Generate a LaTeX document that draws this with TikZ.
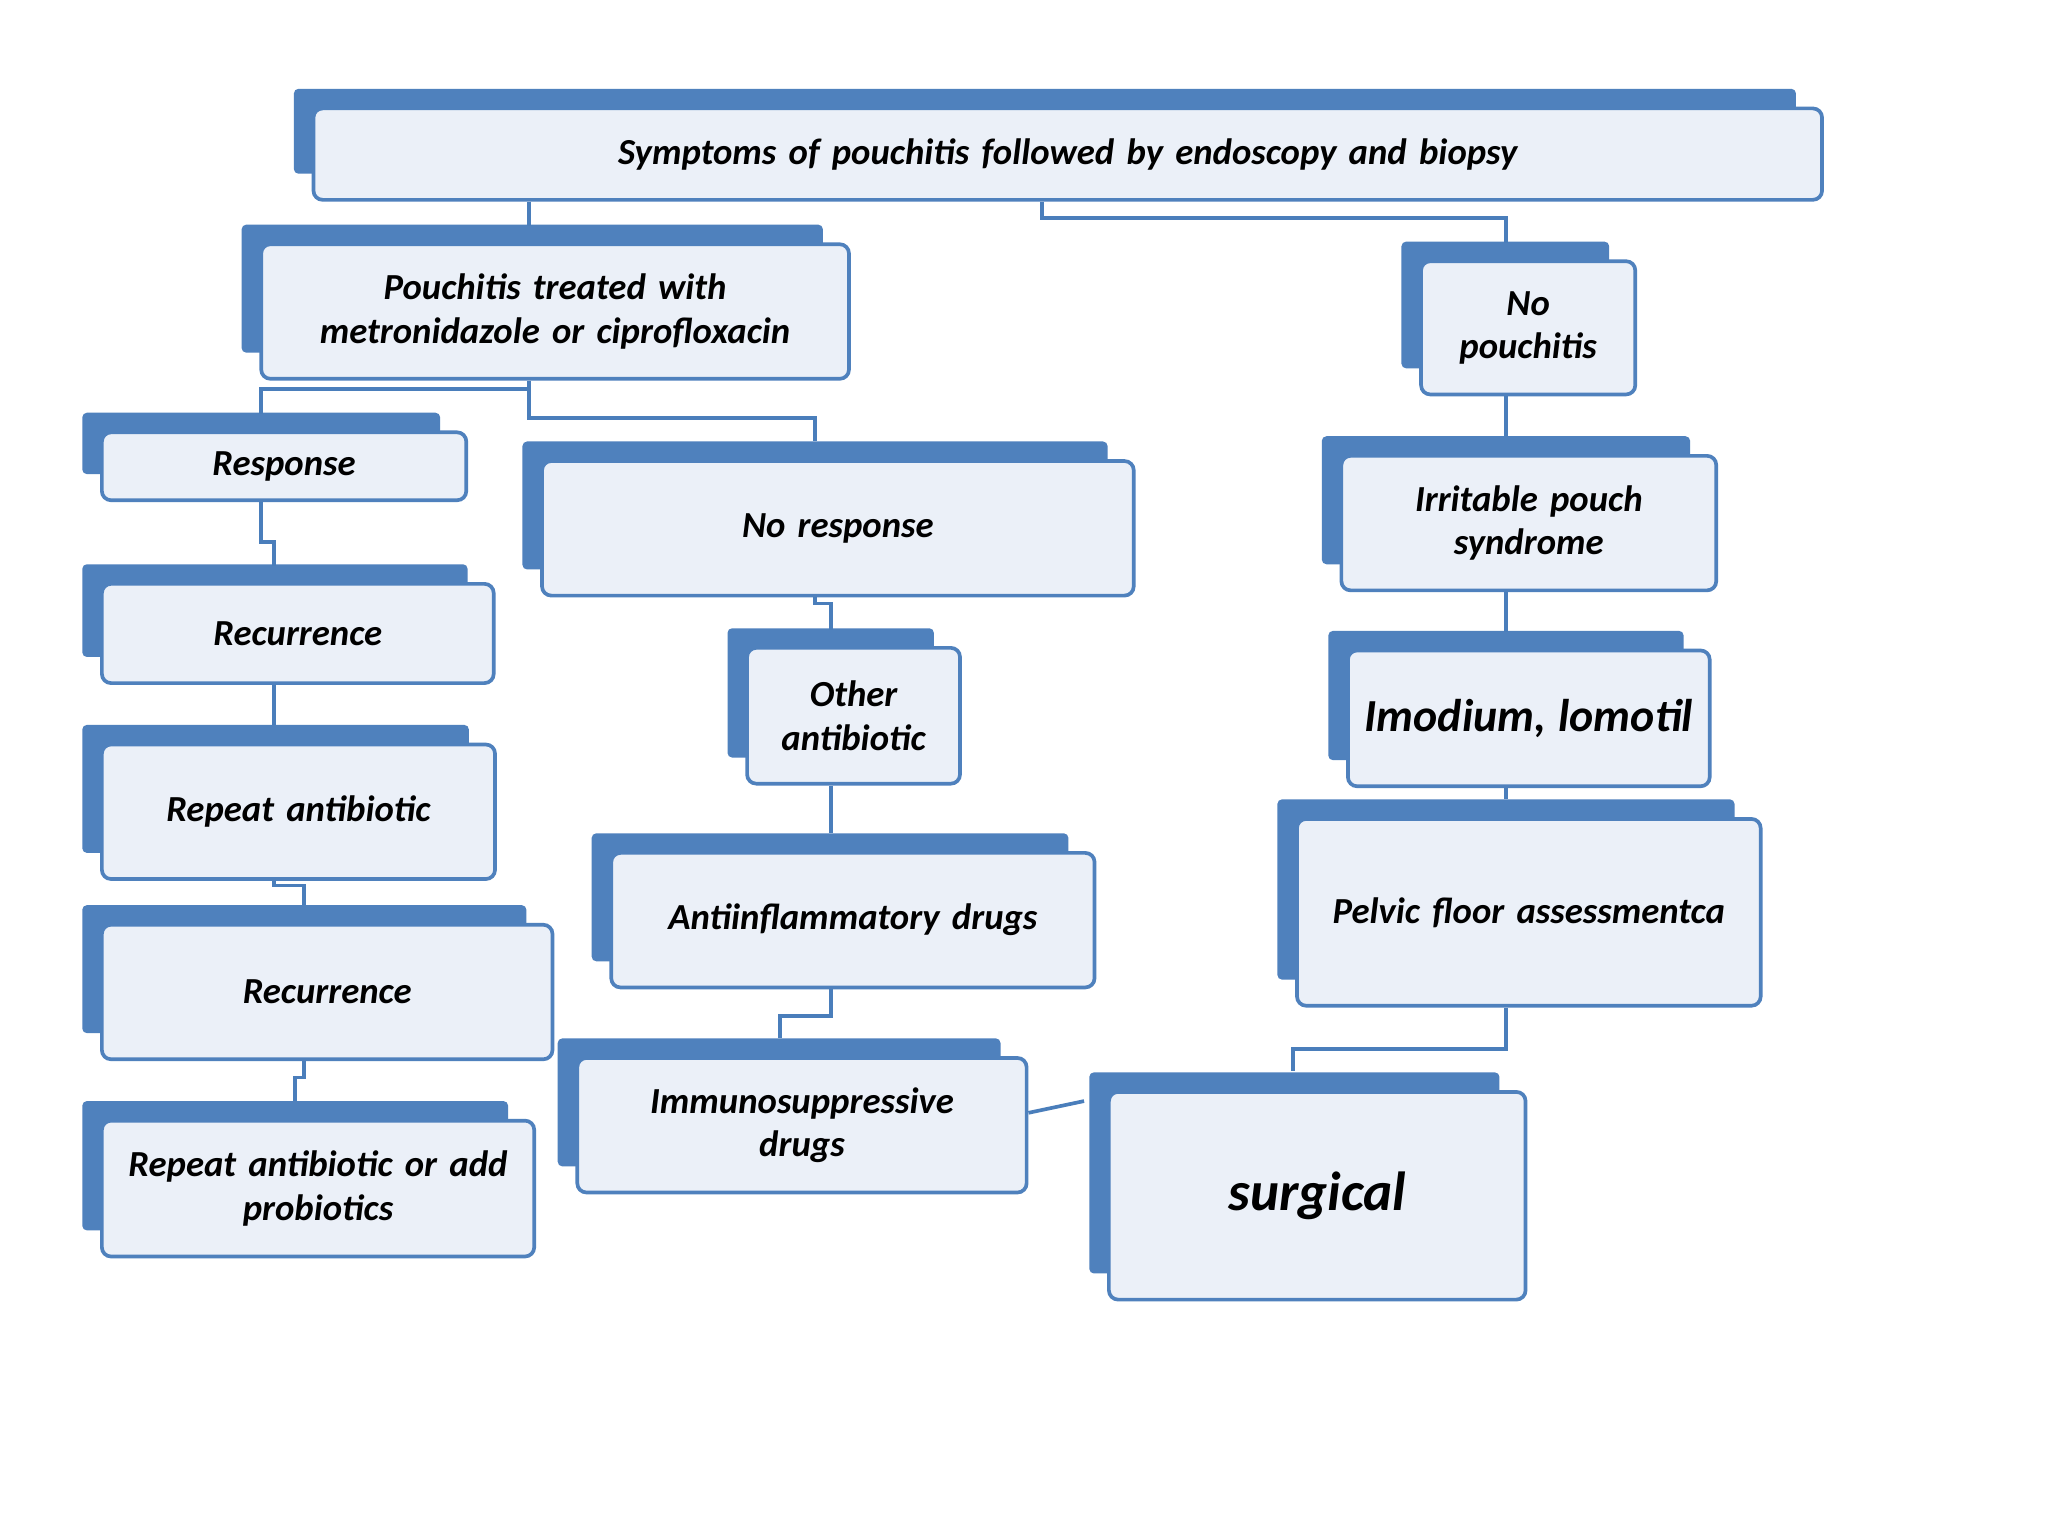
\documentclass[tikz,border=0pt]{standalone}
\usepackage{fontspec}
\setmainfont{Carlito}
\usetikzlibrary{calc}
\definecolor{backblue}{HTML}{4F81BD}
\definecolor{lineblue}{HTML}{4A7EBB}
\definecolor{frontfill}{HTML}{EBF0F8}
\newcommand{\flowBox}[6]{%
  \fill[backblue, rounded corners=2pt] (#2-15,#3-15) rectangle (#4-20,#5-20);
  \pgfmathsetmacro{\bw}{(#4-#2)*0.02}\pgfmathsetmacro{\bh}{(#5-#3)*0.02}
  \node[frontbox, minimum width=\bw cm, minimum height=\bh cm, text width=\bw cm-0.4cm] (#1) at ({(#2+#4)/2},{(#3+#5)/2}) {#6};
}
\begin{document}
\begin{tikzpicture}[x=0.02cm, y=-0.02cm,
  frontbox/.style={draw=backblue, line width=1.6pt, fill=frontfill, rounded corners=4pt,
    align=center, inner sep=0pt, font=\fontsize{16}{19}\selectfont\bfseries\itshape},
  conn/.style={draw=lineblue, line width=1.6pt}]
  \useasboundingbox[fill=white] (0,0) rectangle (1568,1176);
  \flowBox{top}{240}{83}{1395}{153}{Symptoms of pouchitis followed by endoscopy and biopsy}
  \flowBox{treat}{200}{187}{650}{290}{Pouchitis treated with\\metronidazole or ciprofloxacin}
  \flowBox{nopch}{1088}{200}{1252}{302}{No\\pouchitis}
  \flowBox{resp}{78}{331}{357}{383}{Response}
  \flowBox{noresp}{415}{353}{868}{456}{No response}
  \flowBox{irr}{1027}{349}{1314}{452}{Irritable pouch\\syndrome}
  \flowBox{recA}{78}{447}{378}{523}{Recurrence}
  \flowBox{other}{572}{496}{735}{600}{Other\\antibiotic}
  \flowBox{imod}{1032}{498}{1309}{602}{\fontsize{20}{24}\selectfont Imodium, lomotil}
  \flowBox{repA}{78}{570}{379}{673}{Repeat antibiotic}
  \flowBox{anti}{468}{653}{838}{756}{Antiinflammatory drugs}
  \flowBox{pelvic}{993}{627}{1348}{770}{Pelvic floor assessmentca}
  \flowBox{recB}{78}{708}{423}{811}{Recurrence}
  \flowBox{immuno}{442}{810}{786}{913}{Immunosuppressive\\drugs}
  \flowBox{repB}{78}{858}{409}{962}{Repeat antibiotic or add\\probiotics}
  \flowBox{surg}{849}{836}{1168}{995}{\fontsize{24}{28}\selectfont surgical}
  % connectors
  \draw[conn] (405,0 |- top.south) -- (405,173);
  \draw[conn] (798,0 |- top.south) |- (1153,167) -- (1153,186);
  \draw[conn] (405,0 |- treat.south) |- (200,298) -- (200,317);
  \draw[conn] (405,0 |- treat.south) |- (624,320) -- (624,338);
  \draw[conn] (200,0 |- resp.south) |- (210,415) -- (210,433);
  \draw[conn] (210,0 |- recA.south) -- (210,555);
  \draw[conn] (210,0 |- repA.south) |- (233,678) -- (233,693);
  \draw[conn] (233,0 |- recB.south) |- (226,825) -- (226,843);
  \draw[conn] (624,0 |- noresp.south) |- (636,462) -- (636,482);
  \draw[conn] (636,0 |- other.south) -- (636,638);
  \draw[conn] (636,0 |- anti.south) |- (597,778) -- (597,795);
  \draw[conn] (immuno.east |- 0,852) -- (830,843);
  \draw[conn] (1153,0 |- nopch.south) -- (1153,334);
  \draw[conn] (1153,0 |- irr.south) -- (1153,484);
  \draw[conn] (1153,0 |- imod.south) -- (1153,612);
  \draw[conn] (1153,0 |- pelvic.south) |- (990,803) -- (990,820);
\end{tikzpicture}
\end{document}
